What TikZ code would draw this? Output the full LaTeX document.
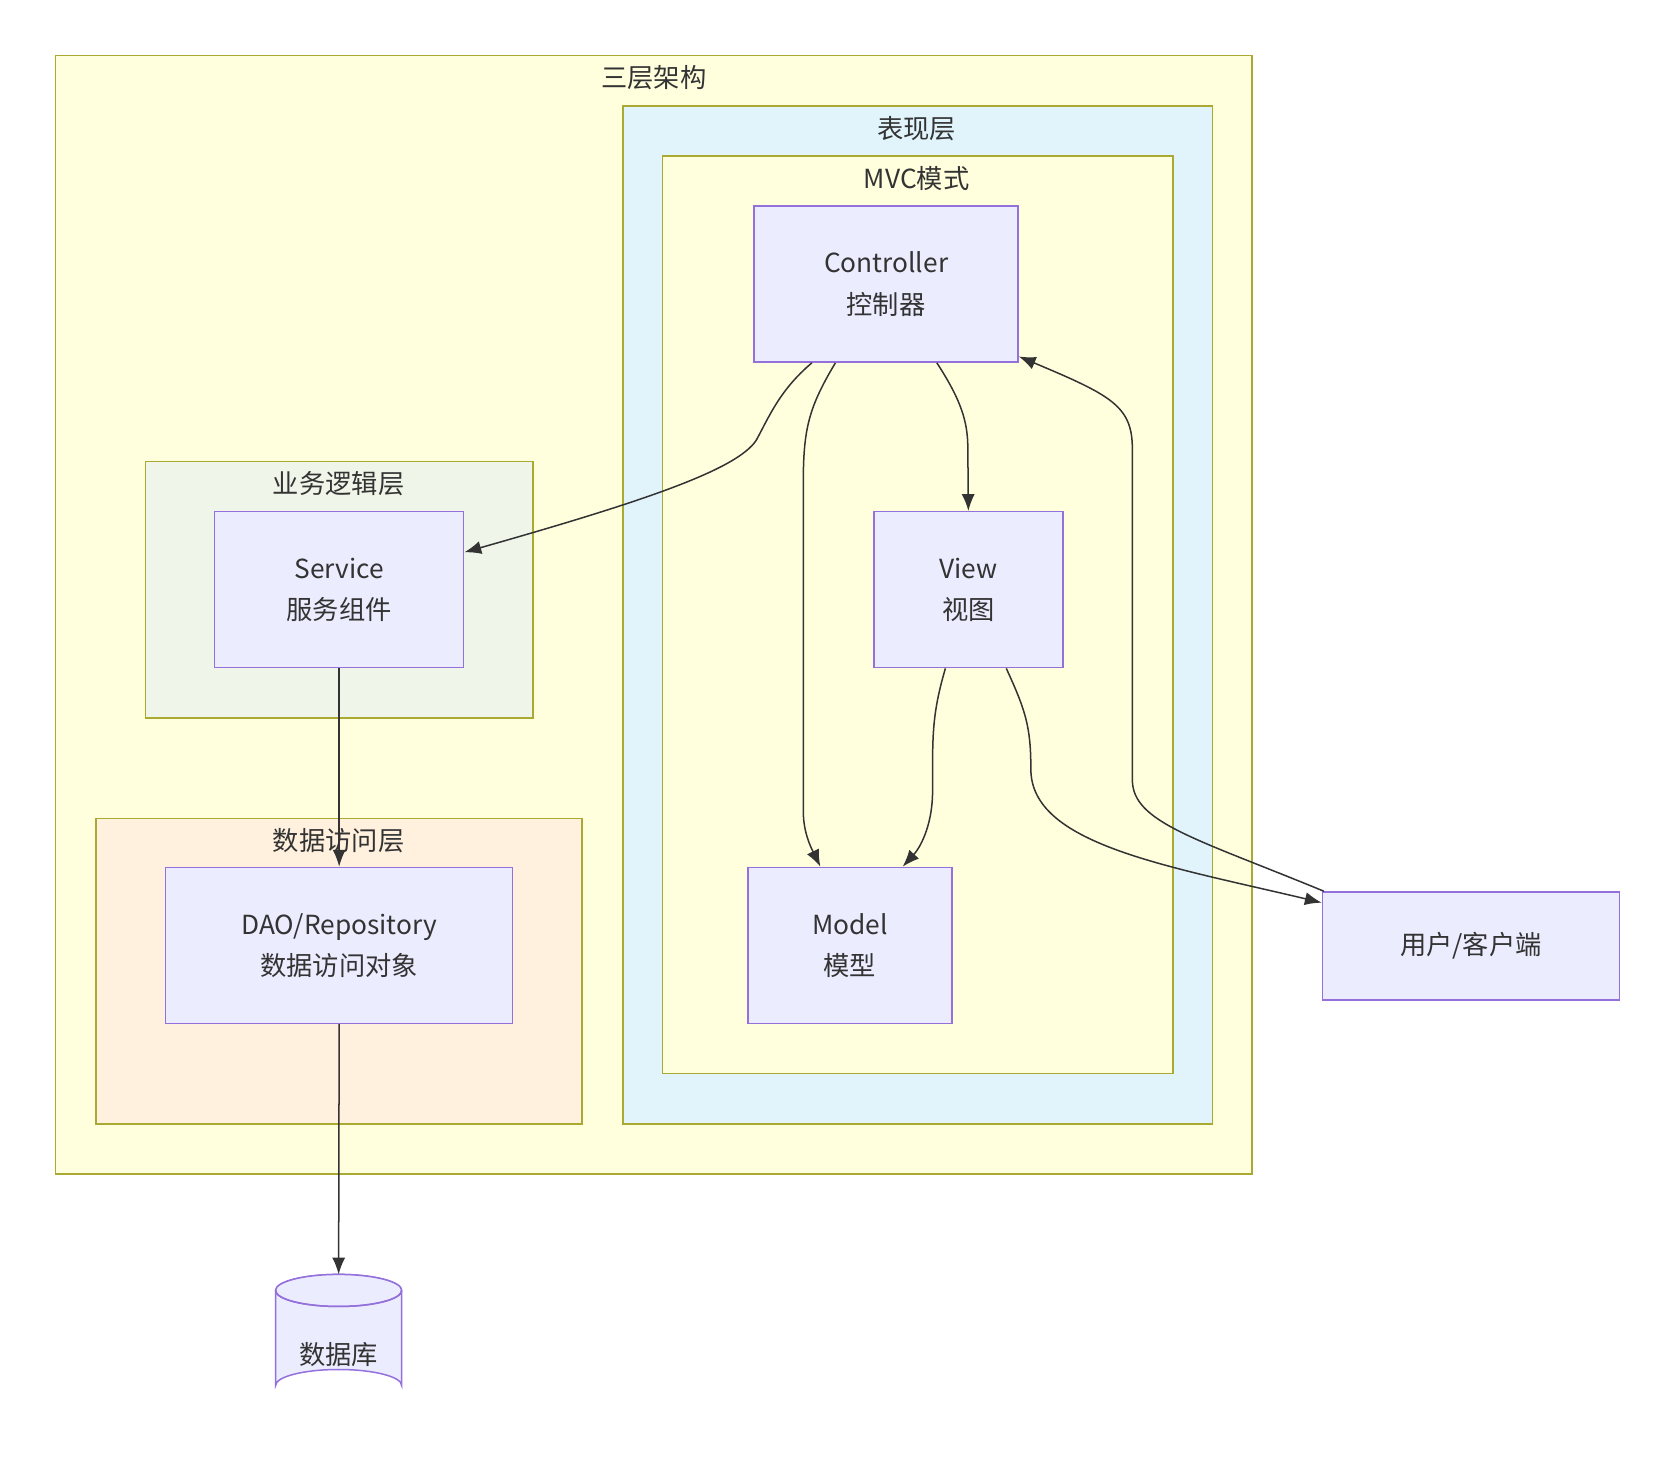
\documentclass[tikz,border=0pt]{standalone}
\usepackage{fontspec}
\setmainfont{Noto Sans CJK SC}
\usetikzlibrary{calc,arrows.meta}
\definecolor{ybg}{HTML}{FFFFDE}
\definecolor{ybd}{HTML}{AAAA33}
\definecolor{bbg}{HTML}{E1F4FC}
\definecolor{gbg}{HTML}{F0F5E9}
\definecolor{obg}{HTML}{FFF1DE}
\definecolor{nbg}{HTML}{ECECFF}
\definecolor{nbd}{HTML}{9370DB}
\definecolor{ln}{HTML}{333333}
\begin{document}
\begin{tikzpicture}[x=0.02cm,y=-0.02cm,
  grp/.style={draw=ybd,line width=0.8pt},
  ttl/.style={font=\fontsize{14}{16}\selectfont,text=ln},
  nd/.style={draw=nbd,fill=nbg,line width=0.8pt,align=center,font=\fontsize{14}{22}\selectfont,text=ln,minimum height=2.92cm,inner sep=0},
  ar/.style={draw=ln,line width=0.8pt,-{Latex[length=9pt,width=7pt]}}]
\useasboundingbox (0,0) rectangle (1568,1365);
\fill[white] (0,0) rectangle (1568,1365);
\draw[grp,fill=ybg] (52,52) rectangle (1172,1099);
\node[ttl] (t1) at (612,73) {三层架构};
\draw[grp,fill=bbg] (583,99) rectangle (1135,1052);
\node[ttl] (t2) at (858,120) {表现层};
\draw[grp,fill=ybg] (620,146) rectangle (1098,1005);
\node[ttl] (t3) at (858,167) {MVC模式};
\draw[grp,fill=gbg] (136,432) rectangle (499,672);
\node[ttl] (t4) at (317,453) {业务逻辑层};
\draw[grp,fill=obg] (90,766) rectangle (545,1052);
\node[ttl] (t5) at (317,787) {数据访问层};

\node[nd,minimum width=4.94cm] (ctrl) at (829.5,266) {Controller\\控制器};
\node[nd,minimum width=3.54cm] (view) at (906.5,552) {View\\视图};
\node[nd,minimum width=3.82cm] (model) at (795.5,885) {Model\\模型};
\node[nd,minimum width=4.66cm] (svc) at (317.5,552) {Service\\服务组件};
\node[nd,minimum width=6.5cm] (dao) at (317.5,885) {DAO/Repository\\数据访问对象};
\node[nd,minimum width=5.56cm,minimum height=2.02cm] (user) at (1377,885.5) {用户/客户端};

% database cylinder
\draw[draw=nbd,fill=nbg,line width=0.8pt] (258,1208) arc[start angle=180,end angle=360,x radius=59,y radius=15] -- (376,1297) arc[start angle=0,end angle=-180,x radius=59,y radius=15] -- cycle;
\draw[draw=nbd,fill=nbg,line width=0.8pt] (317,1208) ellipse[x radius=59,y radius=15];
\draw[draw=nbd,line width=0.8pt] (258,1208) arc[start angle=180,end angle=360,x radius=59,y radius=-15];
\coordinate (dbtop) at (317,1193);
\node[font=\fontsize{14}{16}\selectfont,text=ln] (db) at (317,1268) {数据库};

\draw[ar] ($(ctrl.south)+(-69.5,0)$) .. controls (730,365) and (720,390) .. (708,412) .. controls (690,440) and (600,470) .. ($(svc.east)+(0,-35)$);
\draw[ar] ($(ctrl.south)+(-47.5,0)$) .. controls (758,380) and (752,400) .. (752,450) -- (752,760) .. controls (752,780) and (760,795) .. ($(model.north)+(-27.5,0)$);
\draw[ar] ($(ctrl.south)+(47.5,0)$) .. controls (900,375) and (906,395) .. (906,420) -- (view.north);
\draw[ar] ($(view.south)+(-21.5,0)$) .. controls (872,670) and (873,690) .. (873,740) .. controls (873,775) and (860,795) .. ($(model.north)+(49.5,0)$);
\draw[ar] ($(view.south)+(35.5,0)$) .. controls (960,665) and (965,680) .. (965,720) .. controls (965,790) and (1090,810) .. ($(user.west)+(0,-40.5)$);
\draw[ar] ($(user.north west)+(2,0)$) .. controls (1120,785) and (1060,770) .. (1060,730) -- (1060,420) .. controls (1060,380) and (1040,370) .. ($(ctrl.south east)+(0,-6)$);
\draw[ar] (svc.south) -- (dao.north);
\draw[ar] (dao.south) -- (dbtop);
\end{tikzpicture}
\end{document}
